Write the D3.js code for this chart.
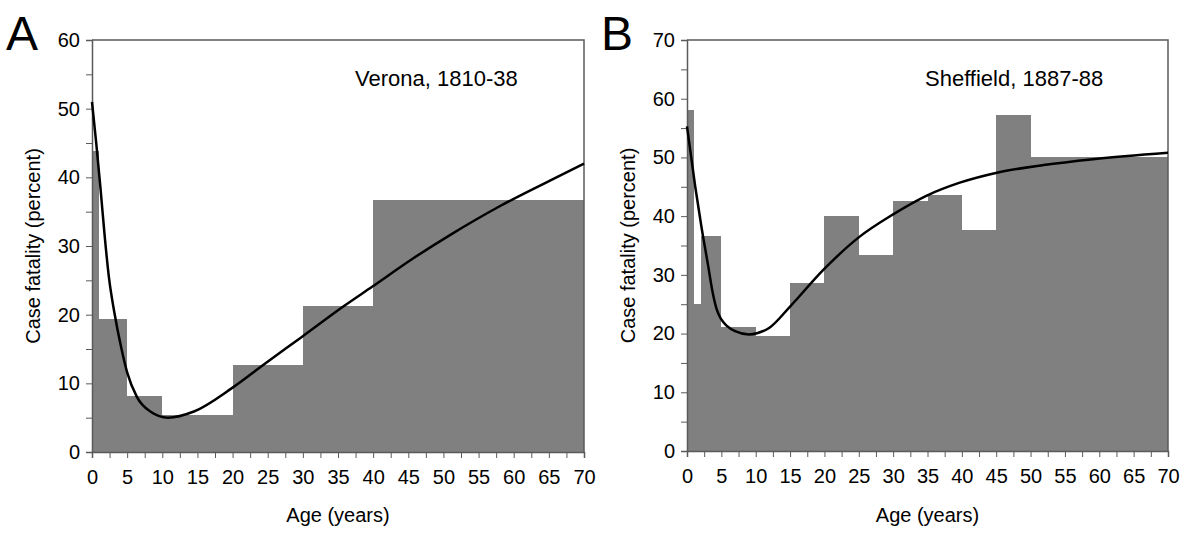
<!DOCTYPE html>
<html>
<head>
<meta charset="utf-8">
<script src="https://d3js.org/d3.v7.min.js"></script>
<style>
  body { margin: 0; background: #fff; }
  text { font-family: "Liberation Sans", Arial, sans-serif; fill: #000; }
</style>
</head>
<body>
<svg id="frame" width="1200" height="541"></svg>
<script>
  // Verona, 1810-38: age groups (start, end) and case fatality (%)
  var veronaStart = [0, 1, 5, 10, 20, 30, 40];
  var veronaEnd   = [1, 5, 10, 20, 30, 40, 70];
  var veronaRate  = [43.8, 19.4, 8.1, 5.4, 12.6, 21.2, 36.7];
  // fitted curve
  var veronaCurveAge  = [0, 0.6, 1.2, 1.8, 2.4, 3.2, 4.2, 5, 6.4, 8.3, 10.8, 14.5, 19.9, 24.4, 29.9, 35.9, 39.9, 45.4, 51.1, 58.2, 65.3, 70];
  var veronaCurveRate = [51.0, 45.0, 38.5, 31.5, 25.5, 20.2, 15.0, 11.6, 8.0, 5.9, 5.0, 5.9, 9.3, 12.7, 16.8, 21.3, 24.1, 28.0, 31.7, 35.9, 39.6, 42.0];

  // Sheffield, 1887-88
  var sheffStart = [0, 1, 2, 5, 10, 15, 20, 25, 30, 35, 40, 45, 50];
  var sheffEnd   = [1, 2, 5, 10, 15, 20, 25, 30, 35, 40, 45, 50, 70];
  var sheffRate  = [58.1, 25.0, 36.6, 21.2, 19.6, 28.6, 40.0, 33.4, 42.5, 43.6, 37.6, 57.3, 50.0];
  var sheffCurveAge  = [0, 1.2, 2.1, 3.1, 3.7, 4.3, 5, 5.8, 7, 9, 10.3, 12, 15, 19.8, 24.9, 30, 34.9, 39.7, 45.1, 51.9, 59.1, 70];
  var sheffCurveRate = [55.3, 45.0, 38.2, 31.4, 27.2, 24.2, 22.4, 21.3, 20.4, 19.85, 20.1, 21.0, 24.6, 30.8, 36.3, 40.3, 43.5, 45.7, 47.4, 48.7, 49.7, 50.8];

  var xTicks = d3.range(0, 70.1, 2.5);
  var xLabels = d3.range(0, 71, 5);

  var svg = d3.select('#frame');
  var axisColor = '#5a5a5a';
  var barColor = '#808080';

  drawPanel({
    letter: 'A', letterX: 6, title: 'Verona, 1810-38', titleX: 355,
    left: 92, right: 584, top: 40, bottom: 452, ymax: 60, ylabelX: 40,
    starts: veronaStart, ends: veronaEnd, rates: veronaRate,
    curveAge: veronaCurveAge, curveRate: veronaCurveRate
  });

  drawPanel({
    letter: 'B', letterX: 601, title: 'Sheffield, 1887-88', titleX: 925,
    left: 687, right: 1168, top: 40, bottom: 451, ymax: 70, ylabelX: 635,
    starts: sheffStart, ends: sheffEnd, rates: sheffRate,
    curveAge: sheffCurveAge, curveRate: sheffCurveRate
  });

  function drawPanel(p) {
    var x = d3.scaleLinear().domain([0, 70]).range([p.left, p.right]);
    var y = d3.scaleLinear().domain([0, p.ymax]).range([p.bottom, p.top]);
    var g = svg.append('g');

    // bars
    var bins = p.starts.map(function(s, i){ return [s, p.ends[i], p.rates[i]]; });
    g.selectAll('rect.bar')
      .data(bins)
      .enter().append('rect')
      .attr('class', 'bar')
      .attr('x', function(d){ return x(d[0]); })
      .attr('width', function(d){ return x(d[1]) - x(d[0]); })
      .attr('y', function(d){ return y(d[2]); })
      .attr('height', function(d){ return y(0) - y(d[2]); })
      .attr('fill', barColor)
      .attr('shape-rendering', 'crispEdges');

    // plot frame: top and right
    g.append('path')
      .attr('d', 'M' + p.left + ',' + p.top + 'H' + p.right + 'V' + p.bottom)
      .attr('fill', 'none')
      .attr('stroke', axisColor)
      .attr('stroke-width', 1.5);

    // y axis
    var yAxis = d3.axisLeft(y)
      .tickValues(d3.range(0, p.ymax + 0.1, 5))
      .tickSize(6)
      .tickPadding(6)
      .tickFormat(function(d){ return d % 10 === 0 ? d : ''; });
    var ya = g.append('g')
      .attr('transform', 'translate(' + p.left + ',0)')
      .call(yAxis);
    ya.select('.domain').attr('stroke', axisColor).attr('stroke-width', 1.5);
    ya.selectAll('.tick line').attr('stroke', axisColor);
    ya.selectAll('.tick text').style('font-size', '20px').attr('font-family', null);

    // x axis
    var xAxis = d3.axisBottom(x)
      .tickValues(xTicks)
      .tickSize(6)
      .tickPadding(12)
      .tickFormat(function(d){ return xLabels.indexOf(d) >= 0 ? d : ''; });
    var xa = g.append('g')
      .attr('transform', 'translate(0,' + p.bottom + ')')
      .call(xAxis);
    xa.select('.domain').attr('stroke', axisColor).attr('stroke-width', 1.5);
    xa.selectAll('.tick line').attr('stroke', axisColor);
    xa.selectAll('.tick text').style('font-size', '20px').attr('font-family', null);

    // fitted curve
    var pts = p.curveAge.map(function(a, i){ return [a, p.curveRate[i]]; });
    var line = d3.line()
      .x(function(d){ return x(d[0]); })
      .y(function(d){ return y(d[1]); })
      .curve(d3.curveMonotoneX);
    g.append('path')
      .attr('d', line(pts))
      .attr('fill', 'none')
      .attr('stroke', '#000')
      .attr('stroke-width', 2.5);

    // labels
    g.append('text')
      .attr('x', (p.left + p.right) / 2)
      .attr('y', 522)
      .attr('text-anchor', 'middle')
      .style('font-size', '20px')
      .text('Age (years)');

    g.append('text')
      .attr('transform', 'translate(' + p.ylabelX + ',' + ((p.top + p.bottom) / 2) + ') rotate(-90)')
      .attr('text-anchor', 'middle')
      .style('font-size', '20px')
      .text('Case fatality (percent)');

    g.append('text')
      .attr('x', p.titleX)
      .attr('y', 86)
      .style('font-size', '22px')
      .text(p.title);

    g.append('text')
      .attr('x', p.letterX)
      .attr('y', 50)
      .style('font-size', '48px')
      .text(p.letter);
  }
</script>
</body>
</html>
